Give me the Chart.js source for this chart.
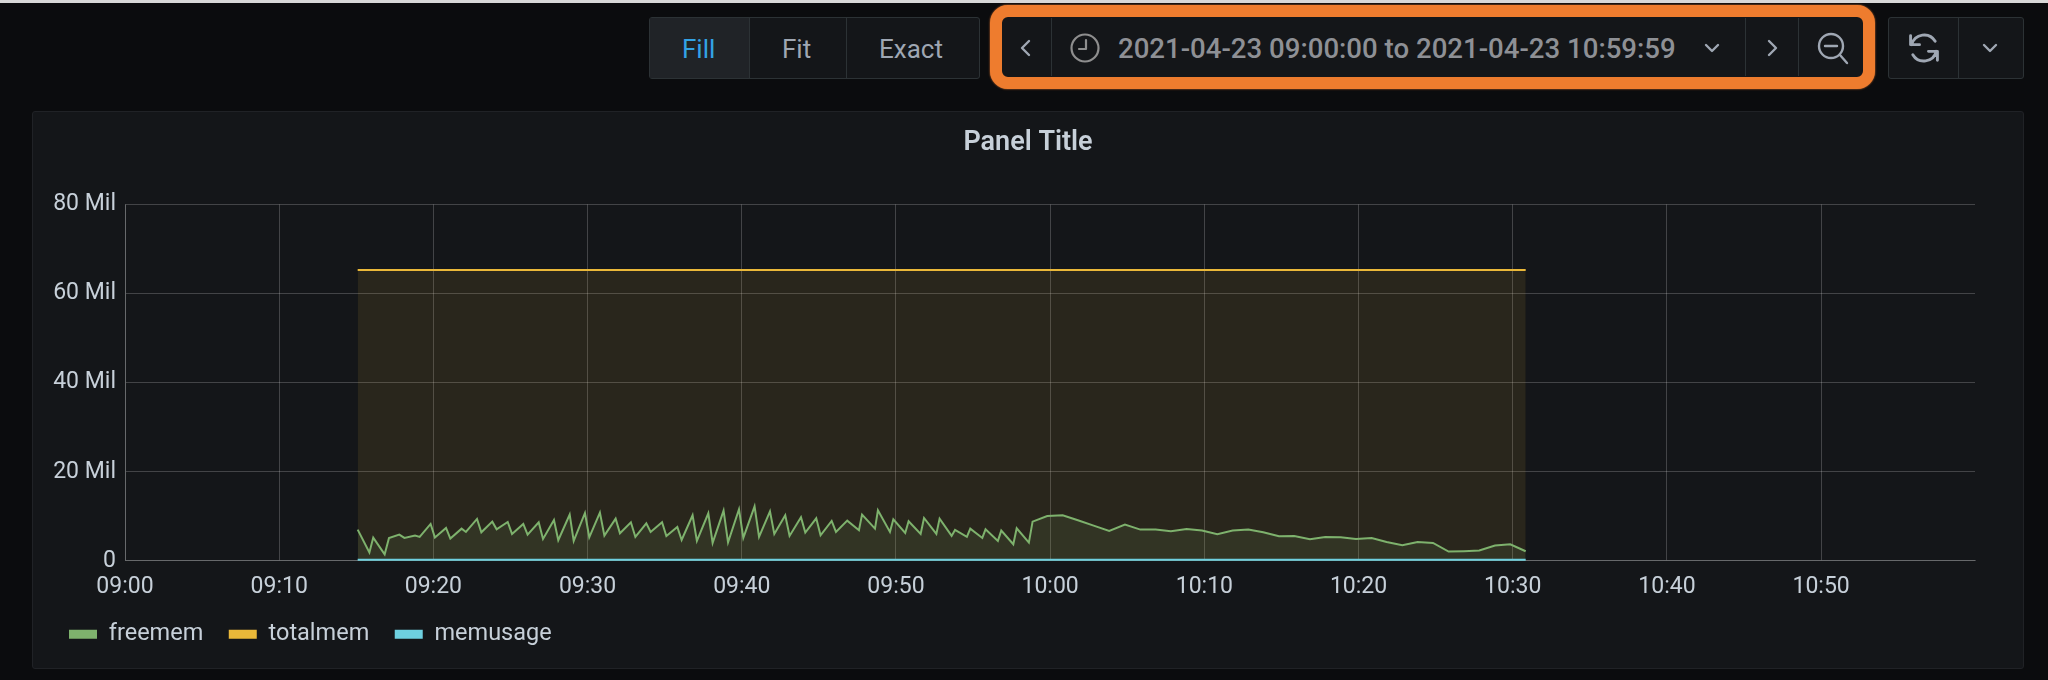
<!DOCTYPE html>
<html>
<head>
<meta charset="utf-8">
<title>Panel Title</title>
<script src="https://cdn.jsdelivr.net/npm/chart.js@4/dist/chart.umd.min.js"></script>
<style>
  html, body { margin: 0; padding: 0; background: #0b0c0e; width: 2048px; height: 680px; overflow: hidden; font-family: Roboto, sans-serif; }
  #topline { position: absolute; left: 0; top: 0; width: 2048px; height: 3px; background: #d8d8d8; }
  .box { position: absolute; box-sizing: border-box; background: #141619; border: 1px solid #2c3235; border-radius: 3px; }
  .sep { position: absolute; top: 0; bottom: 0; width: 1px; background: #2c3235; }
  .lbl { position: absolute; color: #9fa7b3; font-size: 26px; font-weight: 400; white-space: nowrap; line-height: 28px; }
  svg { position: absolute; fill: none; stroke-linecap: round; stroke-linejoin: round; }
  #orange { position: absolute; left: 990px; top: 5px; width: 885px; height: 84px; box-sizing: border-box; border: 12px solid #ee7c2e; border-radius: 18px; background: #141619; box-shadow: 0 0 2px #ee7c2e; }
  #panel { position: absolute; left: 32px; top: 111px; width: 1992px; height: 558px; box-sizing: border-box; background: #141619; border: 1px solid #202226; border-radius: 3px; }
  #chartWrap { position: absolute; left: 32px; top: 111px; width: 1992px; height: 558px; }
</style>
</head>
<body>
<div id="topline"></div>

<div class="box" style="left:649px;top:17px;width:331px;height:62px">
  <div style="position:absolute;left:0;top:0;bottom:0;width:99px;background:#202327"></div>
  <div class="sep" style="left:99px"></div>
  <div class="sep" style="left:196px"></div>
  <div class="lbl" style="left:32px;top:17px;color:#33a2e5">Fill</div>
  <div class="lbl" style="left:132px;top:17px">Fit</div>
  <div class="lbl" style="left:229px;top:17px">Exact</div>
</div>

<div id="orange"></div>
<div class="sep" style="left:1051px;top:18px;bottom:auto;height:58px"></div>
<div class="sep" style="left:1745px;top:18px;bottom:auto;height:58px"></div>
<div class="sep" style="left:1798px;top:18px;bottom:auto;height:58px"></div>
<svg style="left:1016px;top:36px" width="20" height="24" stroke="#9fa7b3" stroke-width="2.4"><path d="M13 5 L6 12 L13 19"/></svg>
<svg style="left:1069px;top:32px" width="32" height="32" stroke="#8e8e8e" stroke-width="2.2"><circle cx="16" cy="16" r="13.5"/><path d="M17 8 V17 H10"/></svg>
<div class="lbl" style="left:1118px;top:35px;color:#8e9095;font-size:27.6px;font-weight:500" id="rangeText">2021-04-23 09:00:00 to 2021-04-23 10:59:59</div>
<svg style="left:1701px;top:38px" width="22" height="20" stroke="#9fa7b3" stroke-width="2.4"><path d="M5 7 L11 13 L17 7"/></svg>
<svg style="left:1762px;top:36px" width="20" height="24" stroke="#9fa7b3" stroke-width="2.4"><path d="M7 5 L14 12 L7 19"/></svg>
<svg style="left:1815px;top:30px" width="36" height="36" stroke="#9fa7b3" stroke-width="2.4"><circle cx="16" cy="16" r="12"/><path d="M10 16 H22 M25 25 L32 33"/></svg>

<div class="box" style="left:1888px;top:17px;width:136px;height:62px">
  <div class="sep" style="left:69px"></div>
  <svg style="left:16px;top:11px" width="38" height="38" stroke="#9fa7b3" stroke-width="2.6" viewBox="0 0 34 34"><path d="M6 14 A11.5 11.5 0 0 1 27 11 M28 20 A11.5 11.5 0 0 1 7 23 M5 6 V14 H13 M29 28 V20 H21"/></svg>
  <svg style="left:90px;top:20px" width="22" height="20" stroke="#9fa7b3" stroke-width="2.4"><path d="M5 7 L11 13 L17 7"/></svg>
</div>

<div id="panel"></div>
<div id="chartWrap"><canvas id="memChart"></canvas></div>

<script>
// minutes after 09:00
const freeTimes = [15.09, 15.85, 16.10, 16.84, 17.12, 17.79, 18.12, 18.81, 19.11, 19.82, 20.10, 20.82, 21.10, 21.83, 22.11, 22.83, 23.11, 23.82, 24.10, 24.82, 25.10, 25.83, 26.11, 26.83, 27.11, 27.82, 28.10, 28.84, 29.10, 29.83, 30.11, 30.80, 31.09, 31.82, 32.10, 32.81, 33.10, 33.81, 34.09, 34.83, 35.11, 35.82, 36.10, 36.81, 37.09, 37.83, 38.11, 38.82, 39.11, 39.82, 40.10, 40.83, 41.12, 41.83, 42.11, 42.82, 43.10, 43.84, 44.12, 44.83, 45.11, 45.83, 46.11, 46.84, 47.60, 47.80, 48.64, 48.83, 49.61, 49.83, 50.60, 50.82, 51.60, 51.82, 52.62, 52.83, 53.61, 53.83, 54.60, 54.82, 55.60, 55.81, 56.61, 56.83, 57.61, 57.83, 58.62, 58.86, 59.81, 60.81, 61.80, 62.82, 63.83, 64.85, 65.85, 66.84, 67.83, 68.85, 69.85, 70.84, 71.84, 72.85, 73.82, 74.84, 75.83, 76.85, 77.84, 78.84, 79.83, 80.85, 81.82, 82.84, 83.83, 84.83, 85.84, 86.84, 87.83, 88.85, 89.84, 90.84];
// freemem, millions
const freeValues = [7.02, 1.87, 5.23, 1.49, 5.15, 5.90, 5.15, 5.68, 5.38, 8.29, 5.23, 7.39, 5.00, 7.24, 6.50, 9.41, 6.42, 8.81, 7.09, 8.74, 6.05, 8.29, 5.90, 8.66, 4.93, 9.19, 4.63, 10.38, 4.48, 10.75, 5.30, 10.83, 5.68, 9.48, 6.20, 8.66, 5.38, 8.44, 6.50, 8.66, 5.60, 7.62, 4.70, 10.23, 4.48, 10.68, 4.03, 11.28, 4.18, 11.58, 5.15, 12.25, 5.38, 11.13, 6.05, 10.23, 5.60, 9.78, 6.35, 9.56, 5.75, 8.96, 6.50, 9.04, 6.87, 10.38, 7.24, 11.35, 6.50, 9.34, 6.27, 8.89, 6.05, 9.63, 6.05, 9.48, 5.60, 6.95, 5.38, 7.24, 5.15, 7.09, 4.48, 6.80, 3.73, 7.32, 4.11, 8.81, 10.08, 10.23, 9.11, 7.92, 6.72, 8.14, 7.02, 7.02, 6.65, 7.17, 6.80, 5.97, 6.80, 7.02, 6.42, 5.53, 5.60, 4.85, 5.38, 5.30, 4.93, 5.15, 4.26, 3.51, 4.26, 4.03, 2.09, 2.17, 2.32, 3.44, 3.73, 2.17];
const flatTimes = [15.09, 90.84];
const totalValues = [65.3, 65.3];
const usageValues = [0.25, 0.25];

const seriesNames = ['freemem', 'totalmem', 'memusage'];
const seriesColors = ['#7eb26d', '#eab839', '#6ed0e0'];
const yTicks = [0, 20, 40, 60, 80];
const xTicks = [0, 10, 20, 30, 40, 50, 60, 70, 80, 90, 100, 110];

function toPoints(xs, ys) {
    return xs.map((x, i) => ({ x: x, y: ys[i] }));
}

function clock(minutes) {
    const h = 9 + Math.floor(minutes / 60);
    const m = minutes % 60;
    return String(h).padStart(2, '0') + ':' + String(m).padStart(2, '0');
}

const tickColor = '#c7d0d9';
const gridColor = 'rgba(255,255,255,0.2)';

new Chart(document.getElementById('memChart'), {
    type: 'line',
    data: {
        datasets: [
            { label: seriesNames[0], data: toPoints(freeTimes, freeValues), borderColor: seriesColors[0], backgroundColor: 'rgba(126,178,109,0.1)', fill: 'origin', order: 2 },
            { label: seriesNames[1], data: toPoints(flatTimes, totalValues), borderColor: seriesColors[1], backgroundColor: 'rgba(234,184,57,0.1)', fill: 'origin', order: 3 },
            { label: seriesNames[2], data: toPoints(flatTimes, usageValues), borderColor: seriesColors[2], backgroundColor: 'rgba(110,208,224,0.1)', fill: 'origin', order: 1 }
        ]
    },
    options: {
        responsive: true,
        maintainAspectRatio: false,
        animation: false,
        layout: { padding: { left: 11.5, right: 11.5, top: 0, bottom: 13 } },
        elements: {
            point: { radius: 0 },
            line: { borderWidth: 2, tension: 0 }
        },
        plugins: {
            tooltip: { enabled: false },
            title: {
                display: true,
                text: 'Panel Title',
                color: '#c7d0d9',
                font: { family: 'Roboto', size: 27, weight: '600' },
                padding: { top: 16, bottom: 45 }
            },
            legend: {
                position: 'bottom',
                align: 'start',
                labels: {
                    color: tickColor,
                    font: { family: 'Roboto', size: 23.5 },
                    boxWidth: 28,
                    boxHeight: 9,
                    padding: 25.5,
                    useBorderRadius: true,
                    borderRadius: 2,
                    generateLabels: () => seriesNames.map((name, i) => ({
                        text: name,
                        fillStyle: seriesColors[i],
                        strokeStyle: seriesColors[i],
                        lineWidth: 0,
                        fontColor: tickColor,
                        datasetIndex: i
                    }))
                }
            }
        },
        scales: {
            x: {
                type: 'linear',
                min: 0,
                max: 119.98,
                afterBuildTicks: (axis) => { axis.ticks = xTicks.map((v) => ({ value: v })); },
                afterFit: (axis) => { axis.height -= 17.5; },
                grid: { color: gridColor, tickLength: 0 },
                border: { color: gridColor },
                ticks: {
                    autoSkip: false,
                    maxRotation: 0,
                    color: tickColor,
                    padding: 13,
                    font: { family: 'Roboto', size: 23 },
                    callback: (v) => clock(v)
                }
            },
            y: {
                min: 0,
                max: 80,
                afterFit: (axis) => { axis.width = 81.5; },
                afterBuildTicks: (axis) => { axis.ticks = yTicks.map((v) => ({ value: v })); },
                grid: { color: gridColor, tickLength: 0 },
                border: { color: gridColor },
                ticks: {
                    color: tickColor,
                    padding: 9,
                    font: { family: 'Roboto', size: 23 },
                    callback: (v) => (v === 0 ? '0' : v + ' Mil')
                }
            },
            // empty right axis, keeps the plot inset while the title stays centred on the panel
            gutter: {
                position: 'right',
                afterFit: (axis) => { axis.width = 37.5; },
                grid: { display: false },
                border: { display: false },
                ticks: { display: false }
            }
        }
    }
});
</script>
</body>
</html>
